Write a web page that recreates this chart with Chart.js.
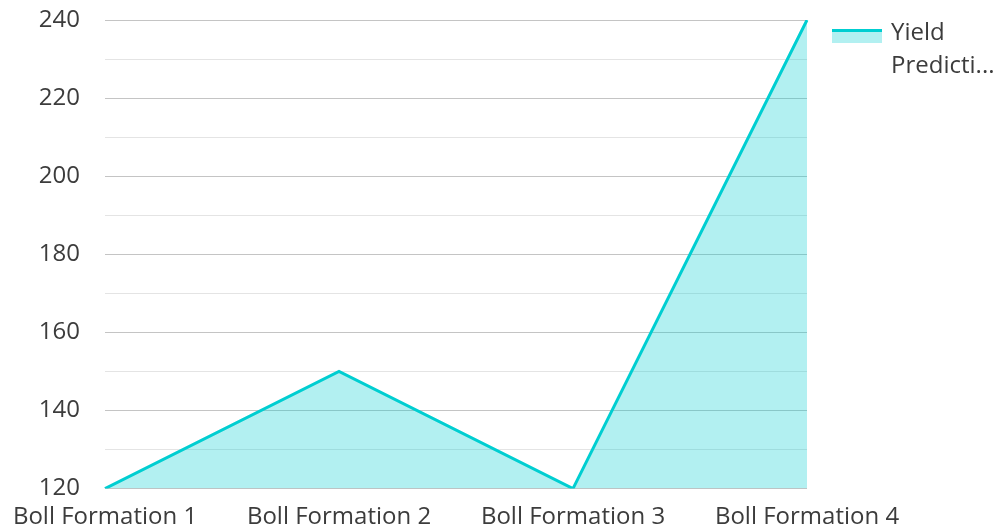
<!DOCTYPE html>
<html>
<head>
<meta charset="utf-8">
<script src="https://cdn.jsdelivr.net/npm/chart.js@4"></script>
<style>
  html, body { margin: 0; padding: 0; background: #fff; }
  #wrap { position: relative; width: 1001px; height: 528px; }
  #legend { position: absolute; left: 832px; top: 14px; font-family: 'Open Sans', sans-serif; font-size: 24px; color: #3c3c3c; line-height: 33px; }
  #legend .swatch { position: absolute; left: 0; top: 15px; width: 50px; height: 14px; background: rgba(0, 206, 209, 0.3); border-top: 3px solid #00ced1; box-sizing: border-box; }
  #legend .text { margin-left: 59px; width: 120px; white-space: nowrap; }
</style>
</head>
<body>
<div id="wrap">
  <canvas id="chart" width="1001" height="528"></canvas>
  <div id="legend"><div class="swatch"></div><div class="text" id="legendText"></div></div>
</div>
<script>
const categories = ['Boll Formation 1', 'Boll Formation 2', 'Boll Formation 3', 'Boll Formation 4'];
const yieldValues = [120, 150, 120, 240];
const seriesName = 'Yield Prediction';
const legendLines = ['Yield', 'Predicti...'];

document.getElementById('legendText').innerHTML = legendLines.join('<br>');

const FONT = { family: "'Open Sans', sans-serif", size: 24 };

new Chart(document.getElementById('chart'), {
    type: 'line',
    data: {
        labels: categories,
        datasets: [{
            label: seriesName,
            data: yieldValues,
            borderColor: '#00ced1',
            backgroundColor: 'rgba(0, 206, 209, 0.3)',
            borderWidth: 3,
            fill: 'start',
            tension: 0,
            pointRadius: 0,
            pointHoverRadius: 0
        }]
    },
    options: {
        responsive: false,
        animation: false,
        layout: { padding: { top: 20, right: 194, bottom: -15, left: 0 } },
        plugins: { legend: { display: false }, tooltip: { enabled: false } },
        scales: {
            x: {
                offset: false,
                grid: { display: false },
                border: { display: false },
                ticks: { color: '#3c3c3c', font: FONT, padding: 6, maxRotation: 0, autoSkip: false }
            },
            y: {
                min: 120, max: 240,
                afterFit: (scale) => { scale.width = 105; scale.paddingTop = 0; },
                border: { display: false },
                grid: {
                    drawTicks: false,
                    lineWidth: 1,
                    color: (ctx) => (ctx.tick && ctx.tick.value % 20 === 0) ? '#c4c4c4' : '#e4e4e4'
                },
                ticks: {
                    stepSize: 10,
                    padding: 25,
                    color: '#3c3c3c',
                    font: FONT,
                    callback: (v) => v % 20 === 0 ? v : ''
                }
            }
        }
    }
});
</script>
</body>
</html>
